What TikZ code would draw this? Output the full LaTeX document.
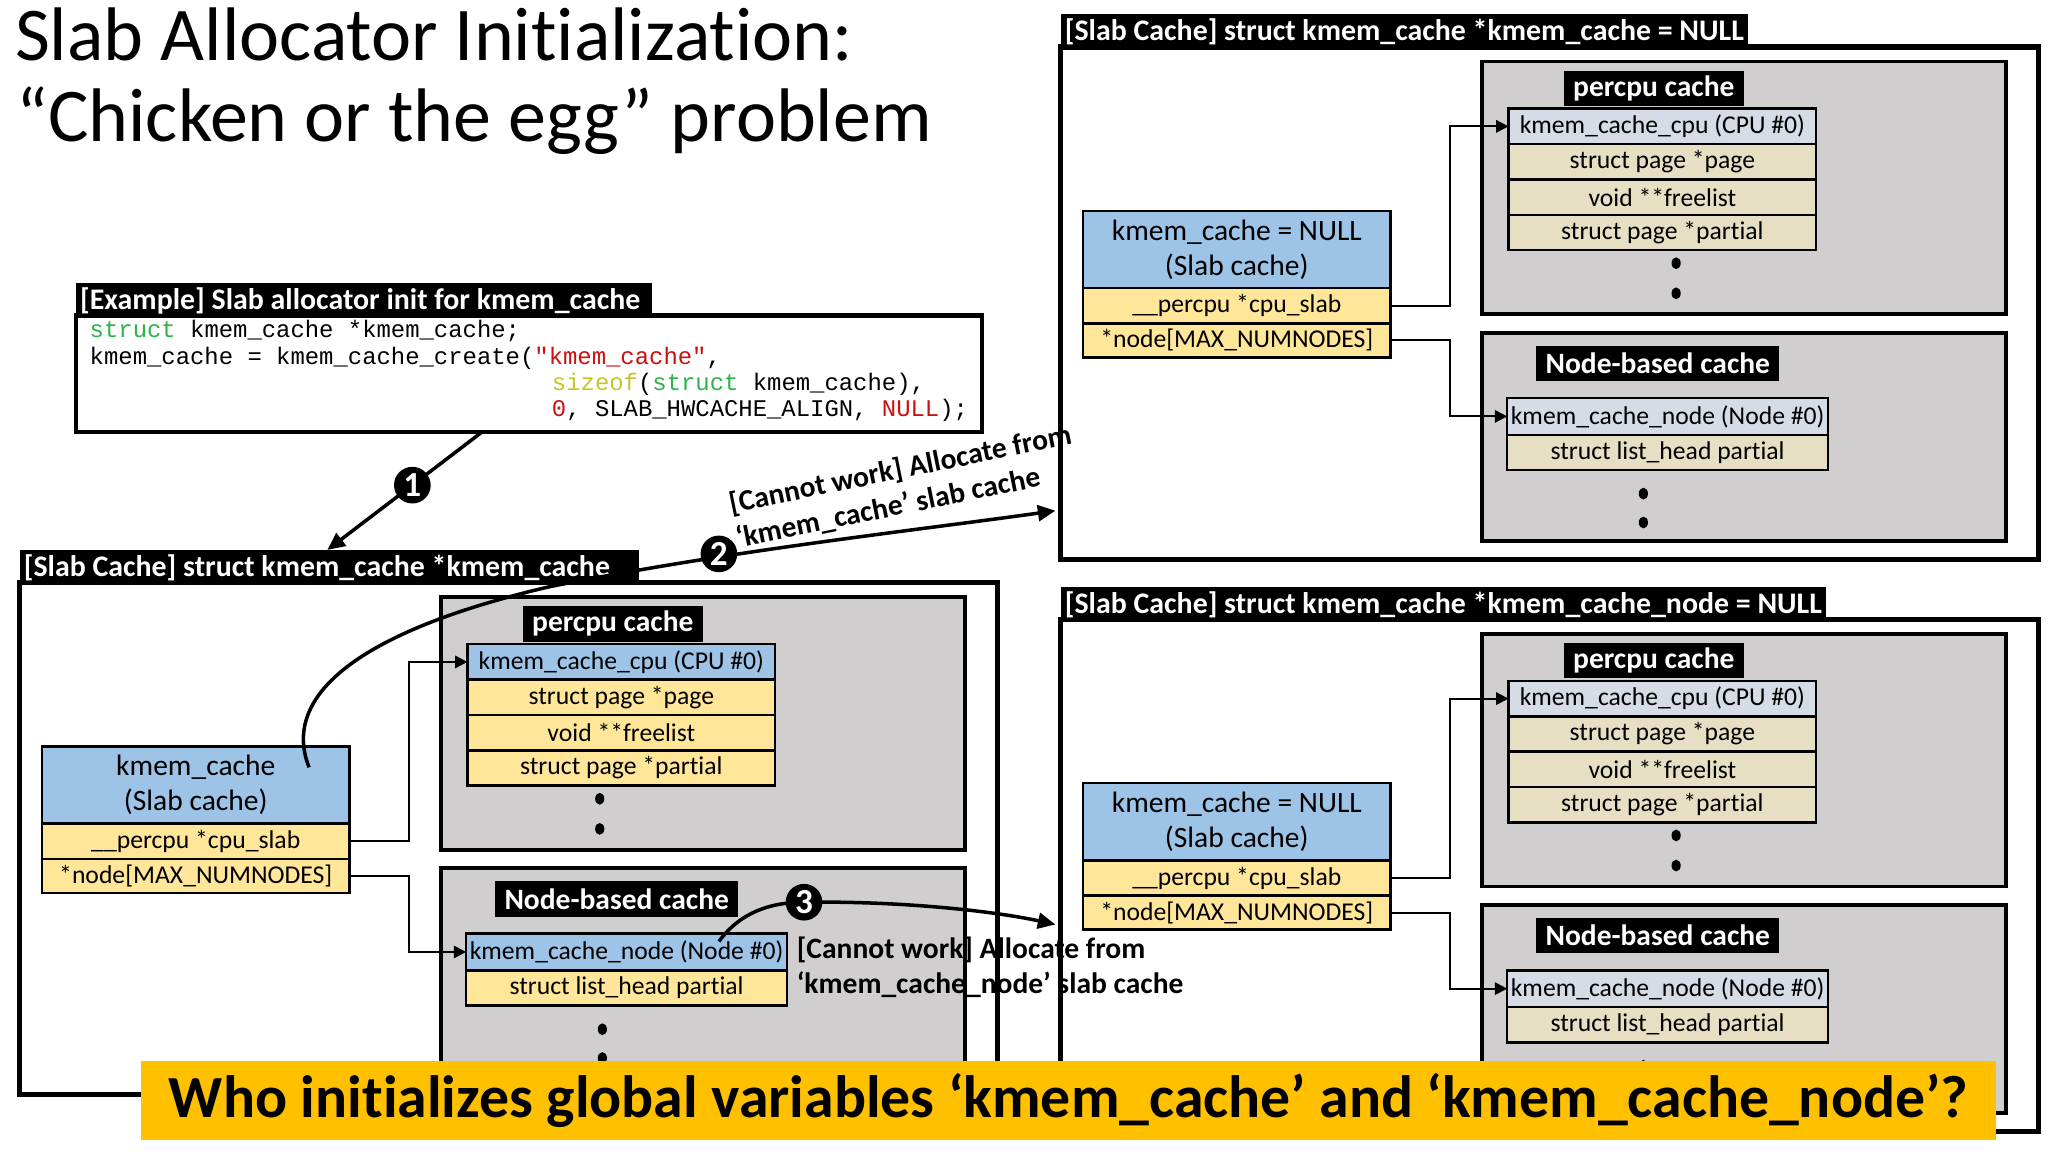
\documentclass[tikz,border=0pt]{standalone}
\usepackage{fontspec}
\setmainfont{Carlito}[Ligatures={TeX,NoCommon}]
\newfontfamily\codefont{Liberation Mono}
\usetikzlibrary{arrows.meta,calc}
\newcommand{\px}[1]{#1*0.013095cm}
\definecolor{vblue}{HTML}{9DC3E6}
\definecolor{vyellow}{HTML}{FFE699}
\definecolor{fblue}{HTML}{D6DCE5}
\definecolor{fyellow}{HTML}{E6DFC4}
\definecolor{boxgray}{HTML}{D0CECE}
\definecolor{bannery}{HTML}{FFC000}
\definecolor{cgreen}{HTML}{2DB34A}
\definecolor{cyell}{HTML}{C6C62A}
\definecolor{cred}{HTML}{CC1010}
\tikzset{
  frame/.style={draw=black, line width=1.5pt, fill=white, anchor=north west, inner sep=0pt, outer sep=0pt},
  graybox/.style={draw=black, line width=1.1pt, fill=boxgray, anchor=north west, inner sep=0pt, outer sep=0pt},
  hdr/.style={fill=black, text=white, font=\bfseries\fontsize{8.5}{10}\selectfont, inner xsep=1.2pt, inner ysep=0pt, minimum height=\px{27}, outer sep=0pt},
  sechdr/.style={fill=black, text=white, font=\bfseries\fontsize{8.4}{10}\selectfont, inner xsep=2.6pt, inner ysep=0pt, minimum height=\px{27}, outer sep=0pt},
  field/.style={draw=black, line width=0.7pt, anchor=north west, inner sep=0pt, outer sep=0pt, font=\fontsize{7.3}{9}\selectfont, minimum width=\px{235}, minimum height=\px{27}},
  conn/.style={line width=0.55pt, -{Triangle[length=3.5pt,width=3.5pt]}},
  bigarrow/.style={line width=1pt, -{Triangle[length=5pt,width=4.5pt]}},
  numcirc/.style={circle, fill=black, text=white, font=\bfseries\fontsize{10}{10}\selectfont, minimum size=\px{28}, inner sep=0pt},
  codeline/.style={anchor=base west, inner sep=0pt, font=\codefont\fontsize{6.8}{8}\selectfont},
  lbl/.style={anchor=base west, inner sep=0pt, font=\bfseries\fontsize{8.4}{10}\selectfont},
  dot/.style={fill=black}
}
\newcommand{\slabpanel}[9]{%
\begin{scope}[shift={(#2,#3)}]
\node[frame, minimum width=\px{747}, minimum height=\px{391}] (#1frame) at (0,0) {};
\node[hdr, anchor=south west] (#1hdr) at (0,2) {#4\kern#5};
\node[field, fill=vblue, minimum height=\px{59}, align=center, font=\fontsize{8.4}{10}\selectfont] (#1kc) at (17,125) {#6\\(Slab cache)};
\node[field, fill=vyellow] (#1slab) at (17,184) {\_\_percpu *cpu\_slab};
\node[field, fill=vyellow, minimum height=\px{26}] (#1nptr) at (17,211) {*node[MAX\_NUMNODES]};
\node[graybox, minimum width=\px{400}, minimum height=\px{193}] (#1pc) at (322,11) {};
\node[sechdr] (#1pcl) at (453,31.5) {percpu cache};
\node[field, fill=#7] (#1cpu) at (342,47) {kmem\_cache\_cpu (CPU \#0)};
\node[field, fill=#8] (#1page) at (342,74) {struct page *page};
\node[field, fill=#8] (#1free) at (342,101) {void **freelist};
\node[field, fill=#8] (#1part) at (342,128) {struct page *partial};
\fill[dot] (#9,165) ellipse [x radius=\px{3.5}, y radius=\px{4.5}];
\fill[dot] (#9,188) ellipse [x radius=\px{3.5}, y radius=\px{4.5}];
\node[graybox, minimum width=\px{400}, minimum height=\px{159}] (#1nb) at (322,218) {};
\node[sechdr] (#1nbl) at (456,241.5) {Node-based cache};
\node[field, fill=#7, minimum width=\px{245}, minimum height=\px{28}] (#1kcn) at (341,268) {kmem\_cache\_node (Node \#0)};
\node[field, fill=#8, minimum width=\px{245}] (#1lh) at (341,296) {struct list\_head partial};
\fill[dot] (445,341) ellipse [x radius=\px{3.5}, y radius=\px{4.5}];
\fill[dot] (445,363) ellipse [x radius=\px{3.5}, y radius=\px{4.5}];
\draw[conn] (#1slab.east) -- ++(\px{45},0pt) |- (#1cpu.west);
\draw[conn] (#1nptr.east) -- ++(\px{45},0pt) |- (#1kcn.west);
\end{scope}}

\begin{document}
\begin{tikzpicture}[x=0.013095cm, y=-0.013095cm]
\useasboundingbox (0,0) rectangle (1564,880);
\fill[white] (0,0) rectangle (1564,880);

% title
\node[anchor=base west, inner sep=0pt, font=\fontsize{21.6}{25}\selectfont] (t1) at (11,46) {Slab Allocator Initialization:};
\node[anchor=base west, inner sep=0pt, font=\fontsize{21.6}{25}\selectfont] (t2) at (12,108) {“Chicken or the egg” problem};

% panels
\slabpanel{lp}{15}{445}{[Slab Cache] struct kmem\_cache *kmem\_cache}{7pt}{kmem\_cache}{vblue}{vyellow}{443}
\slabpanel{rt}{810}{36}{[Slab Cache] struct kmem\_cache *kmem\_cache = NULL}{0pt}{kmem\_cache = NULL}{fblue}{fyellow}{470}
\slabpanel{rb}{810}{473}{[Slab Cache] struct kmem\_cache *kmem\_cache\_node = NULL}{0pt}{kmem\_cache = NULL}{fblue}{fyellow}{470}

% code block
\node[frame, line width=1.3pt, minimum width=\px{692}, minimum height=\px{89}] (code) at (58,241) {};
\node[hdr, anchor=south west] (codehdr) at (58,243) {[Example] Slab allocator init for kmem\_cache\kern2pt};
\node[codeline] (c1) at (68,258) {{\color{cgreen}struct} kmem\_cache *kmem\_cache;};
\node[codeline] (c2) at (68,278) {kmem\_cache = kmem\_cache\_create({\color{cred}"kmem\_cache"},};
\node[codeline] (c3) at (421,298) {{\color{cyell}sizeof}({\color{cgreen}struct} kmem\_cache),};
\node[codeline] (c4) at (421,318) {{\color{cred}0}, SLAB\_HWCACHE\_ALIGN, {\color{cred}NULL});};

% arrow 1
\draw[bigarrow] ([xshift=\px{310}]code.south west) -- ([xshift=\px{235}]lphdr.north west) node[numcirc, pos=0.45] (n1) {1};

% arrow 2
\coordinate (a2s) at ([xshift=\px{204},yshift=-\px{16}]lpkc.north west);
\coordinate (a2e) at ([xshift=-\px{4},yshift=-\px{354}]rtframe.north west);
\draw[bigarrow] (a2s) .. controls (212,525) and (290,478) .. (420,448) .. controls (560,420) and (700,405) .. (a2e);
\node[numcirc] (n2) at (549,423) {2};

% arrow 3
\coordinate (a3s) at ([xshift=\px{193},yshift=-\px{6}]lpkcn.north west);
\coordinate (a3e) at ([xshift=-\px{4},yshift=-\px{233}]rbframe.north west);
\draw[bigarrow] (a3s) .. controls (565,697) and (588,689) .. (614,689) .. controls (690,688) and (760,696) .. (a3e);
\node[numcirc] (n3) at (614,689) {3};

% labels
\node[lbl, rotate=11.5] (l2) at (558,392) {\begin{tabular}[t]{@{}l@{}}[Cannot work] Allocate from\\‘kmem\_cache’ slab cache\end{tabular}};
\node[lbl] (l3) at (608,732) {\begin{tabular}[t]{@{}l@{}}[Cannot work] Allocate from\\‘kmem\_cache\_node’ slab cache\end{tabular}};

% borders over the labels
\draw[line width=1.1pt] (lpnb.north east) -- (lpnb.south east);
\draw[line width=1.5pt] (lpframe.north east) -- (lpframe.south east);
\draw[line width=1.5pt] (rbframe.north west) -- (rbframe.south west);
\draw[line width=1.5pt] (rtframe.north west) -- (rtframe.south west);

% banner
\node[fill=bannery, anchor=north west, minimum width=\px{1417}, minimum height=\px{60}, inner sep=0pt, font=\bfseries\fontsize{17}{20}\selectfont] (ban) at (107,810) {Who initializes global variables ‘kmem\_cache’ and ‘kmem\_cache\_node’?};
\end{tikzpicture}
\end{document}
